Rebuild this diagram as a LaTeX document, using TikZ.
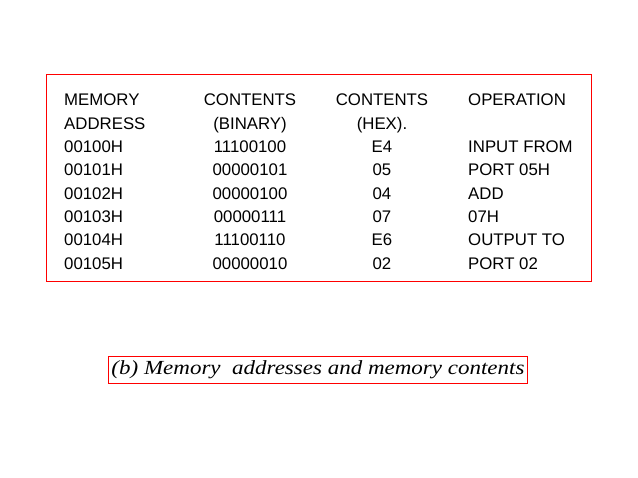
\documentclass[tikz,border=0pt]{standalone}
\usepackage{fontspec}
\usepackage{graphicx}
\setmainfont{Liberation Sans}
\newfontfamily\capfont{Liberation Serif}
\begin{document}
\begin{tikzpicture}[x=1pt,y=-1pt,
  t/.style={inner sep=0pt,font=\fontsize{16.8}{16.8}\selectfont},
  l/.style={t,anchor=base west},
  c/.style={t,anchor=base}]
\useasboundingbox (0,0) rectangle (638,478);
\node[draw=red,line width=1pt,minimum width=545pt,minimum height=207pt,anchor=north west] (box) at (46,74) {};
\foreach \a/\b/\cc/\d [count=\i from 0] in {
  MEMORY/CONTENTS/CONTENTS/OPERATION,
  ADDRESS/(BINARY)/(HEX)./,
  00100H/11100100/E4/INPUT FROM,
  00101H/00000101/05/PORT 05H,
  00102H/00000100/04/ADD,
  00103H/00000111/07/07H,
  00104H/11100110/E6/OUTPUT TO,
  00105H/00000010/02/PORT 02}{
  \node[l] (a\i) at (64,{106+23.3*\i}) {\a};
  \node[c] (b\i) at (250,{106+23.3*\i}) {\b};
  \node[c] (c\i) at (382,{106+23.3*\i}) {\cc};
  \node[l] (d\i) at (468,{106+23.3*\i}) {\d};
}
\node[draw=red,line width=1pt,inner xsep=3pt,inner ysep=4pt,font=\capfont\itshape\fontsize{20}{20}\selectfont] (cap) at (318,370) {\scalebox{1.15}[1]{(b) Memory\ \ addresses and memory contents}};
\end{tikzpicture}
\end{document}
